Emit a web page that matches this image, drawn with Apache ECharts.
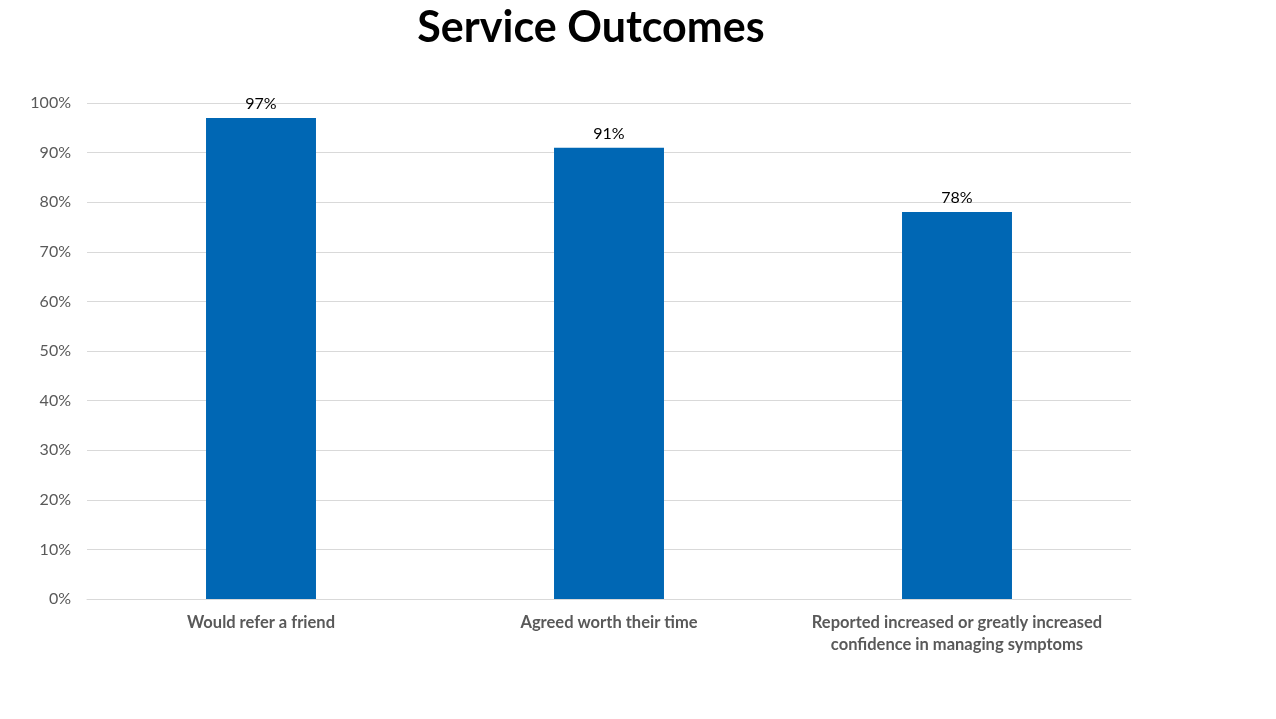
<!DOCTYPE html>
<html><head><meta charset="utf-8">
<script src="https://cdn.jsdelivr.net/npm/echarts@6/dist/echarts.min.js"></script>
<style>html,body{margin:0;padding:0;background:#fff}#c{width:1276px;height:719px}</style>
</head><body><div id="c"></div>
<script>
const categories = ['Would refer a friend', 'Agreed worth their time', 'Reported increased or greatly increased\nconfidence in managing symptoms'];
const values = [97, 91, 78];
const yTicks = [0, 10, 20, 30, 40, 50, 60, 70, 80, 90, 100];

const chart = echarts.init(document.getElementById('c'));
chart.setOption({
  animation: false,
  title: {
    text: 'Service Outcomes', left: 586, top: 2, textAlign: 'center',
    textStyle: { fontFamily: 'Lato', fontWeight: 'bold', fontSize: 43, color: '#000' }
  },
  grid: { left: 87, right: 145, top: 103, bottom: 120, containLabel: false },
  xAxis: {
    type: 'category', data: categories,
    axisLine: { lineStyle: { color: '#d9d9d9' } },
    axisTick: { show: false },
    axisLabel: { color: '#595959', fontFamily: 'Lato', fontWeight: 'bold', fontSize: 16.5, lineHeight: 22, margin: 13, interval: 0 }
  },
  yAxis: {
    type: 'value', min: yTicks[0], max: yTicks[yTicks.length - 1], interval: 10,
    axisLine: { show: false }, axisTick: { show: false },
    splitLine: { lineStyle: { color: '#d9d9d9' } },
    axisLabel: { color: '#595959', fontFamily: 'Lato', fontSize: 16, margin: 16, formatter: v => v + '%' }
  },
  series: [{
    type: 'bar', data: values, barWidth: '31.6%',
    itemStyle: { color: '#0067B4' },
    label: { show: true, position: 'top', distance: 6, color: '#000', fontFamily: 'Lato', fontSize: 16, formatter: p => p.value + '%' }
  }]
});
</script></body></html>
